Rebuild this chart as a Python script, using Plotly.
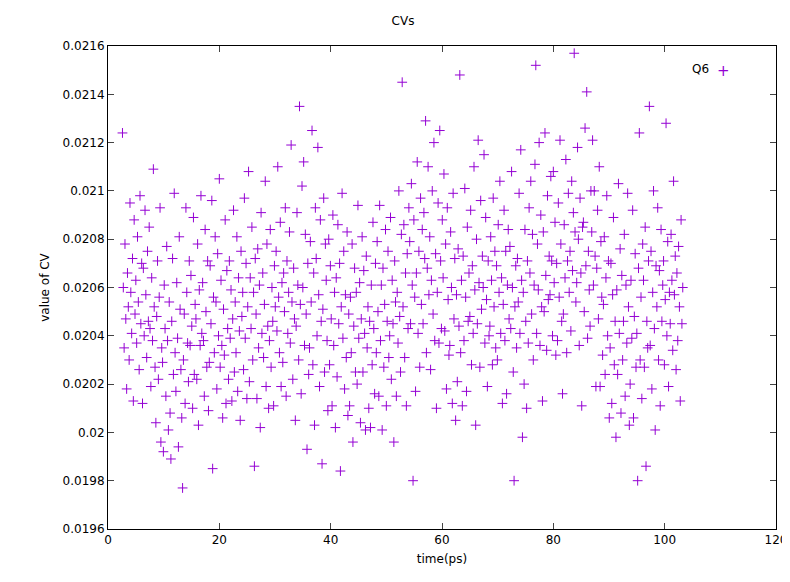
import plotly.graph_objects as go

# start of each time bin (ps), bins are 1.2 ps wide; values of Q6 in units of 1e-5
bin_width = 1.2
q6_rows = [
    "2124 2060 2035 2078 2047 2018 2066 2052",
    "2030 2095 2058 2041 2072 2013 2088 2049",
    "2063 2037 2081 2054 2026 2098 2045 2070",
    "2012 2068 2040 2092 2057 2031 2075 2046",
    "2085 2043 2019 2064 2038 2109 2052 2027",
    "2004 2048 2071 2022 2056 2093 1996 2035",
    "2029 1992 2061 2043 2015 2077 2038 2001",
    "2054 2008 1989 2046 2072 2024 2099 2033",
    "2017 2062 2039 1994 2081 2051 2026 2006",
    "1977 2030 2049 2012 2093 2058 2037 2021",
    "2071 2036 2065 2044 2010 2089 2024 2053",
    "2047 2022 2078 2003 2059 2036 2098 2041",
    "2062 2038 2015 2084 2050 2027 2071 2009",
    "2029 2069 2045 2096 1985 2056 2033 2081",
    "2054 2018 2074 2040 2105 2027 2063 2036",
    "2006 2051 2032 2088 2012 2067 2043 2022",
    "2071 2039 2059 2013 2047 2092 2025 2054",
    "2033 2081 2017 2064 2042 2005 2075 2048",
    "2058 2026 2097 2039 2070 2014 2052 2108",
    "2021 2064 2043 2085 2030 2058 1986 2072",
    "2049 2014 2076 2035 2061 2002 2091 2041",
    "2066 2031 2053 2104 2019 2078 2044 2010",
    "2038 2084 2027 2060 2046 2011 2069 2052",
    "2075 2042 2110 2056 2033 2087 2019 2062",
    "2029 2066 2050 2093 2015 2071 2041 2058",
    "2083 2037 2119 2054 2022 2068 2047 2005",
    "2044 2091 2061 2030 2135 2053 2016 2102",
    "2060 2112 2036 2082 2049 1993 2070 2024",
    "2035 2079 2054 2125 2028 2066 2003 2093",
    "2072 2040 2118 2057 2019 2088 2046 1987",
    "2051 2097 2025 2078 2063 2038 2009 2080",
    "2028 2069 2047 2011 2090 2036 2058 2002",
    "2064 2023 2086 2045 2070 1984 2052 2099",
    "2039 2075 2018 2057 2031 2083 2007 2049",
    "2011 2056 2033 2078 1996 2044 2068 2025",
    "2058 2020 2094 2039 2062 2004 2047 2081",
    "2025 2067 2041 2001 2073 2035 2052 2010",
    "2046 2002 2061 2028 2087 2043 2016 2070",
    "2033 2079 2050 2015 2094 2038 2061 2001",
    "2068 2027 2053 2084 2011 2046 2075 2031",
    "2040 2089 2022 2063 2045 1996 2071 2054",
    "2015 2058 2037 2100 2048 2025 2082 2145",
    "2052 2086 2031 2066 2011 2074 2043 2093",
    "2079 2045 2103 2061 1980 2088 2056 2017",
    "2066 2112 2041 2075 2027 2097 2053 2084",
    "2045 2091 2072 2129 2033 2068 2110 2057",
    "2081 2026 2063 2100 2049 2120 2038 2074",
    "2010 2058 2095 2037 2125 2071 2043 2088",
    "2064 2107 2042 2078 2018 2093 2055 2032",
    "2036 2083 2060 2012 2099 2047 2072 2005",
    "2057 2021 2076 2044 2148 2033 2063 2011",
    "2073 2038 2101 2056 2017 2085 2046 2066",
    "2048 2092 2028 2069 2041 2110 2059 2003",
    "2080 2045 2121 2062 2027 2096 2051 2073",
    "2060 2115 2037 2089 2055 2019 2071 2040",
    "2044 2081 2063 2028 2097 2052 2075 2035",
    "2069 2030 2086 2058 2104 2041 2064 2012",
    "2053 2092 2038 2075 2016 2061 2084 2047",
    "2077 2043 2108 2060 2025 1980 2052 2069",
    "2035 2072 2054 2099 2041 2117 2063 1998",
    "2058 2020 2084 2046 2010 2071 2037 2093",
    "2066 2104 2049 2082 2030 2061 2111 2152",
    "2041 2078 2059 2120 2036 2090 2052 2013",
    "2083 2050 2124 2065 2034 2098 2055 2073",
    "2057 2106 2071 2040 2108 2062 2087 2032",
    "2070 2038 2095 2056 2121 2078 2046 2016",
    "2049 2086 2064 2113 2033 2071 2099 2058",
    "2075 2042 2104 2067 2091 2157 2083 2054",
    "2062 2118 2080 2036 2097 2066 2011 2085",
    "2087 2050 2126 2069 2141 2039 2075 2059",
    "2044 2100 2083 2121 2061 2100 2073 2019",
    "2068 2092 2047 2110 2019 2079 2056 2032",
    "2053 2081 2024 2064 2098 2040 2071 2006",
    "2035 2070 2012 2057 2089 2028 2046 1998",
    "2059 2024 2103 2041 2076 2008 2065 2030",
    "2046 2082 2015 2061 2037 2099 2052 2003",
    "2020 2063 2039 2092 2006 2048 2074 2027",
    "2041 1980 2068 2124 2030 2056 2014 2078",
    "2063 2027 2085 1986 2046 2035 2071 2135",
    "2036 2075 2018 2058 2100 2043 2001 2069",
    "2052 2093 2030 2067 2011 2084 2046 2061",
    "2071 2028 2055 2128 2040 2079 2019 2058",
    "2045 2082 2063 2034 2104 2057 2073 2026",
    "2066 2038 2077 2052 2013 2088 2045 2060",
]
bin_starts = [2.6 + bin_width * i for i in range(len(q6_rows))]

x_vals, y_vals = [], []
for t, row in zip(bin_starts, q6_rows):
    vals = [int(v) for v in row.split()]
    for k, v in enumerate(vals):
        x_vals.append(t + k * bin_width / len(vals))
        y_vals.append(v / 1e5)

purple = "#9400D3"
fig = go.Figure(go.Scatter(
    x=x_vals, y=y_vals, mode="markers",
    marker=dict(symbol="cross-thin-open", size=7, color=purple,
                line=dict(color=purple, width=1)),
    name="Q6", showlegend=False))

font = dict(family="DejaVu Sans", size=12, color="black")
axis = dict(showgrid=False, zeroline=False, mirror="ticks", ticks="inside",
            showline=True, linecolor="black", linewidth=1, ticklen=6,
            tickfont=font)
fig.update_layout(
    width=790, height=582, plot_bgcolor="white", paper_bgcolor="white",
    margin=dict(l=100, r=22, t=38, b=61),
    title=dict(text="CVs", x=0.5, xanchor="center", y=0.985, font=font),
    xaxis=dict(axis, range=[0, 120], dtick=20,
               title=dict(text="time(ps)", font=font, standoff=8)),
    yaxis=dict(axis, range=[0.0196, 0.0216], dtick=0.0002, tickformat="~g",
               title=dict(text="value of CV", font=font, standoff=10)),
    annotations=[
        dict(x=0.902, y=0.97, xref="paper", yref="paper", text="Q6", showarrow=False,
             xanchor="right", font=font),
        dict(x=0.908, y=0.97, xref="paper", yref="paper", text="+", showarrow=False,
             xanchor="left", font=dict(family="DejaVu Sans", size=15, color=purple)),
    ],
)
fig.write_html("out.html")
